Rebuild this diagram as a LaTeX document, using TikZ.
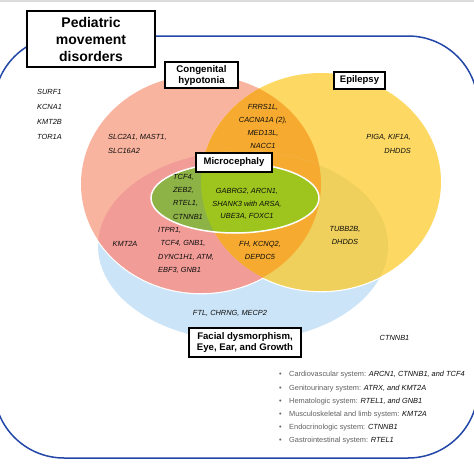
\documentclass[tikz,border=0pt]{standalone}
\usepackage{fontspec}
\setmainfont{Liberation Sans}
\definecolor{cblue}{HTML}{CCE4F7}
\definecolor{csalmon}{HTML}{F9B4A0}
\definecolor{cyellow}{HTML}{FDD963}
\definecolor{corange}{HTML}{F7AA30}
\definecolor{cpink}{HTML}{F19C97}
\definecolor{cdyellow}{HTML}{EFD05C}
\definecolor{cgreenA}{HTML}{8DB246}
\definecolor{cgreenB}{HTML}{9DC51E}
\definecolor{cframe}{HTML}{2347A8}
\begin{document}
\begin{tikzpicture}[x=1pt,y=-1pt]
\tikzset{
  boxlabel/.style={draw=black, line width=1.3pt, fill=white, inner sep=0pt, align=center, text=black},
  gene/.style={inner sep=0pt, text=black!95},
}
\useasboundingbox (0,0) rectangle (474,474);
\fill[white] (0,0) rectangle (474,474);
\fill[black!14] (0,0) rectangle (474,2.3);
\draw[cframe, line width=1.5pt, rounded corners=70pt] (-6,36) rectangle (478,458);

% Venn regions
\fill[cblue] (243,246) ellipse [x radius=145pt, y radius=95pt];
\draw[white, line width=2.6pt] (201,184) ellipse [x radius=120pt, y radius=109pt];
\draw[white, line width=2.6pt] (321,182) ellipse [x radius=120pt, y radius=109pt];
\fill[csalmon] (201,184) ellipse [x radius=120pt, y radius=109pt];
\fill[cyellow] (321,182) ellipse [x radius=120pt, y radius=109pt];
\begin{scope}
  \clip (201,184) ellipse [x radius=120pt, y radius=109pt];
  \fill[corange] (321,182) ellipse [x radius=120pt, y radius=109pt];
\end{scope}
\begin{scope}
  \clip (243,246) ellipse [x radius=145pt, y radius=95pt];
  \fill[cpink] (201,184) ellipse [x radius=120pt, y radius=109pt];
  \fill[cdyellow] (321,182) ellipse [x radius=120pt, y radius=109pt];
  \clip (201,184) ellipse [x radius=120pt, y radius=109pt];
  \fill[corange] (321,182) ellipse [x radius=120pt, y radius=109pt];
\end{scope}
\fill[cgreenA] (235,198) ellipse [x radius=84pt, y radius=35pt];
\begin{scope}
  \clip (321,182) ellipse [x radius=120pt, y radius=109pt];
  \fill[cgreenB] (235,198) ellipse [x radius=84pt, y radius=35pt];
\end{scope}
\draw[white, line width=1.5pt] (235,198) ellipse [x radius=84pt, y radius=35pt];

% Boxes
\node[boxlabel, line width=1.4pt, minimum width=128pt, minimum height=56pt,
      font=\fontsize{14}{17}\selectfont\bfseries] (title) at (91,39)
      {Pediatric\\movement\\disorders};
\node[boxlabel, minimum width=73pt, minimum height=26pt,
      font=\fontsize{9.7}{11}\selectfont\bfseries] (hypo) at (201.5,75)
      {Congenital\\hypotonia};
\node[boxlabel, minimum width=51pt, minimum height=17pt,
      font=\fontsize{9.5}{11}\selectfont\bfseries] (epi) at (359.5,80.5) {Epilepsy};
\node[boxlabel, minimum width=76pt, minimum height=19pt,
      font=\fontsize{9.5}{11}\selectfont\bfseries] (micro) at (234,162.5) {Microcephaly};
\node[boxlabel, minimum width=112pt, minimum height=29pt,
      font=\fontsize{9.6}{11.5}\selectfont\bfseries] (facial) at (245,342.5)
      {Facial dysmorphism,\\Eye, Ear, and Growth};

% Gene texts
\node[gene, anchor=north west, align=left, font=\fontsize{7.4}{15}\selectfont\itshape]
  (outside) at (37,89.3) {SURF1\\KCNA1\\KMT2B\\TOR1A};
\node[gene, anchor=north west, align=left, font=\fontsize{7.4}{14}\selectfont\itshape]
  (hyponly) at (108,134.3) {SLC2A1, MAST1,\\SLC16A2};
\node[gene, anchor=north, align=center, font=\fontsize{7.4}{12.8}\selectfont\itshape]
  (hypoepi) at (263,104.3) {FRRS1L,\\CACNA1A (2),\\MED13L,\\NACC1};
\node[gene, anchor=north east, align=right, font=\fontsize{7.4}{14}\selectfont\itshape]
  (epionly) at (411,134.3) {PIGA, KIF1A,\\DHDDS};
\node[gene, anchor=north west, align=left, font=\fontsize{7.4}{13.4}\selectfont\itshape]
  (microhypo) at (173,173.8) {TCF4,\\ZEB2,\\RTEL1,\\CTNNB1};
\node[gene, anchor=north, align=center, font=\fontsize{7.4}{12.6}\selectfont\itshape]
  (microall) at (247,188.3) {GABRG2, ARCN1,\\SHANK3 with ARSA,\\UBE3A, FOXC1};
\node[gene, font=\fontsize{7.4}{9}\selectfont\itshape] (kmt) at (125,244) {KMT2A};
\node[gene, anchor=north west, align=left, font=\fontsize{7.4}{13.3}\selectfont\itshape]
  (hypofac) at (158,227.3) {ITPR1,\\\hspace*{2.5pt}TCF4, GNB1,\\DYNC1H1, ATM,\\EBF3, GNB1};
\node[gene, anchor=north, align=center, font=\fontsize{7.4}{13}\selectfont\itshape]
  (allthree) at (260,241.3) {FH, KCNQ2,\\DEPDC5};
\node[gene, anchor=north, align=center, font=\fontsize{7.4}{13}\selectfont\itshape]
  (epifac) at (345,226.3) {TUBB2B,\\DHDDS};
\node[gene, font=\fontsize{7.4}{9}\selectfont\itshape] (faconly) at (230,313) {FTL, CHRNG, MECP2};
\node[gene, font=\fontsize{7.4}{9}\selectfont\itshape] (other) at (394.5,338) {CTNNB1};

% Bullet list
\node[anchor=north west, inner sep=0pt, align=left, text=black!62,
      font=\fontsize{7.4}{13.2}\selectfont] (systems) at (279,371.3)
  {\makebox[10pt][l]{\textbullet}Cardiovascular system: \textcolor{black!95}{\itshape ARCN1, CTNNB1, and TCF4}\\
   \makebox[10pt][l]{\textbullet}Genitourinary system: \textcolor{black!95}{\itshape ATRX, and KMT2A}\\
   \makebox[10pt][l]{\textbullet}Hematologic system: \textcolor{black!95}{\itshape RTEL1, and GNB1}\\
   \makebox[10pt][l]{\textbullet}Musculoskeletal and limb system: \textcolor{black!95}{\itshape KMT2A}\\
   \makebox[10pt][l]{\textbullet}Endocrinologic system: \textcolor{black!95}{\itshape CTNNB1}\\
   \makebox[10pt][l]{\textbullet}Gastrointestinal system: \textcolor{black!95}{\itshape RTEL1}};
\end{tikzpicture}
\end{document}
